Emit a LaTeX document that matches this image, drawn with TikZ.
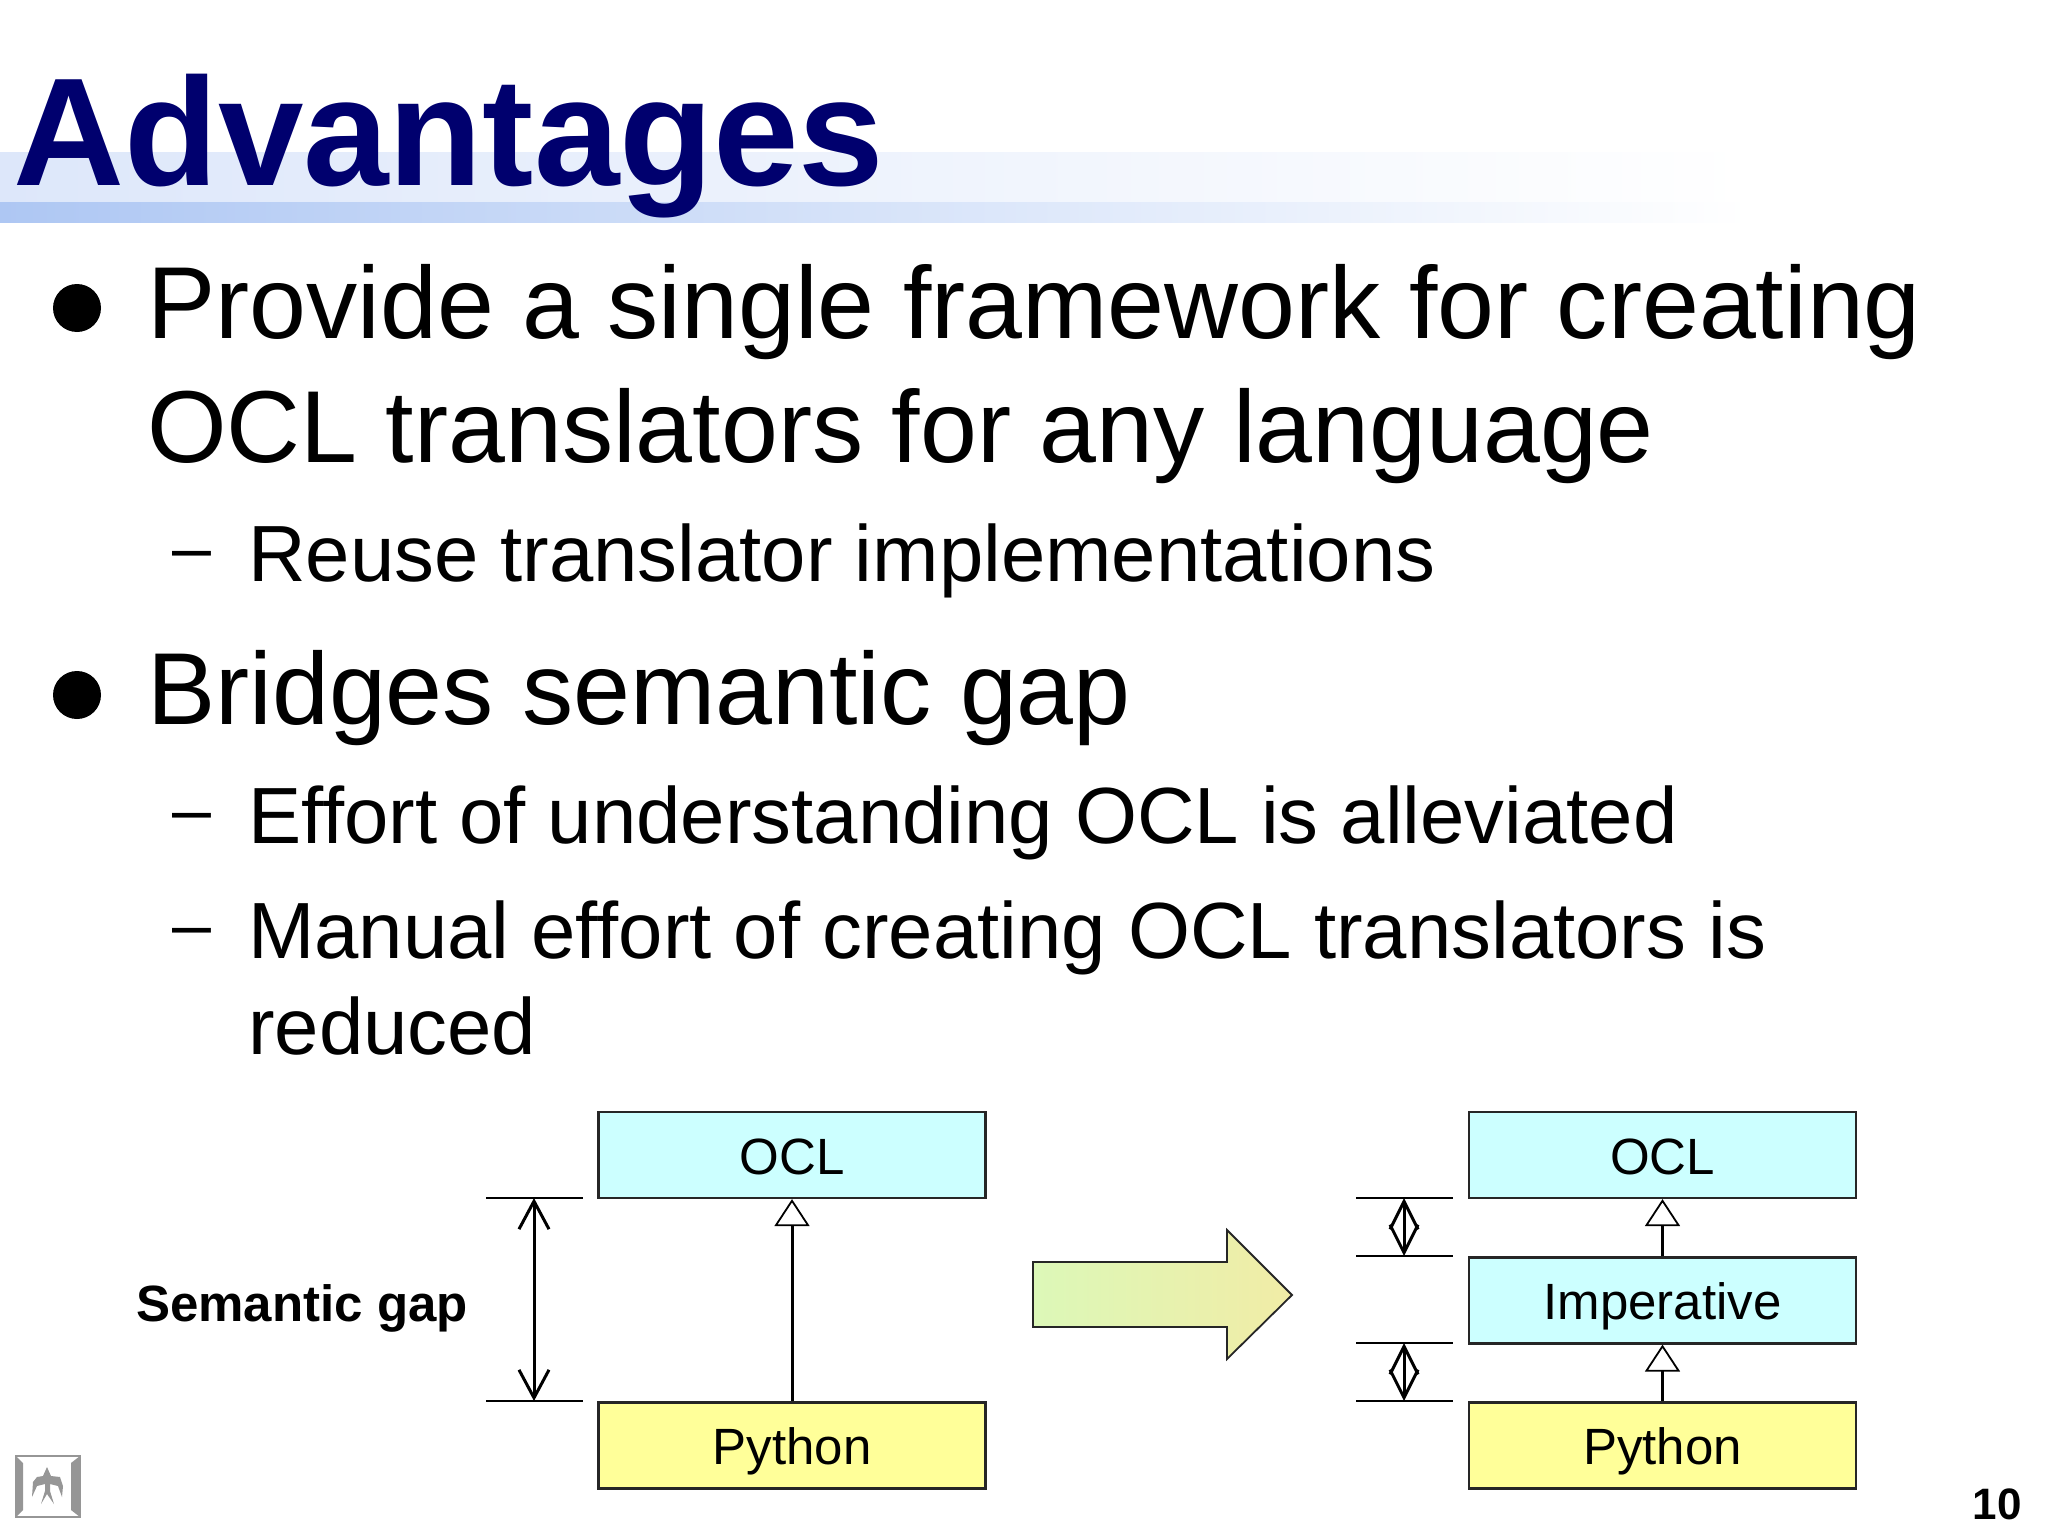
\documentclass[tikz,border=0pt]{standalone}
\usepackage{fontspec}
\setmainfont[Ligatures=CommonOff]{Liberation Sans}
\usetikzlibrary{arrows.meta}
\definecolor{navytitle}{RGB}{0,0,110}
\definecolor{bandlight}{RGB}{221,231,250}
\definecolor{banddark}{RGB}{174,199,243}
\definecolor{boxcyan}{RGB}{204,255,255}
\definecolor{boxyellow}{RGB}{255,255,153}
\definecolor{logogray}{RGB}{150,150,150}
\definecolor{arrowleft}{RGB}{220,248,184}
\definecolor{arrowright}{RGB}{241,236,166}
\tikzset{
 titletext/.style={anchor=base west,inner sep=0pt,text=navytitle,font=\fontsize{153.7}{160}\selectfont\bfseries},
 bodytext/.style={anchor=base west,inner sep=0pt,font=\fontsize{102.3}{120}\selectfont},
 subtext/.style={anchor=base west,inner sep=0pt,font=\fontsize{79.7}{90}\selectfont},
 dashtext/.style={anchor=base west,inner sep=0pt,font=\fontsize{70}{90}\selectfont},
 bulletdot/.style={circle,fill=black,inner sep=0pt,minimum size=48pt},
 langbox/.style={draw=black!85,line width=2.2pt,minimum width=387pt,minimum height=86pt,inner sep=0pt,text height=38pt,text depth=0pt,font=\fontsize{51}{60}\selectfont},
 inherit/.style={line width=3pt,-{Triangle[open,fill=white,length=27pt,width=35pt,line width=1.8pt]}},
 gapline/.style={line width=1.4pt},
 gaparrow/.style={line width=3pt,{Straight Barb[length=28pt,width=28pt,line width=3pt]}-{Straight Barb[length=28pt,width=28pt,line width=3pt]}},
 thinarrow/.style={line width=3pt,{Straight Barb[length=28pt,width=30pt,line width=3pt]}-{Straight Barb[length=28pt,width=30pt,line width=3pt]}}
}
\begin{document}
\begin{tikzpicture}[x=1pt,y=-1pt]
 \useasboundingbox (0,0) rectangle (2048,1536);
 \shade[left color=bandlight,right color=white] (0,153) rectangle (1750,202);
 \shade[left color=banddark,right color=white] (0,202) rectangle (1750,222);
 \node[titletext] (title) at (13,185) {Advantages};

 \node[bulletdot] (dotA) at (77,308) {};
 \node[bodytext] (lineA) at (147,338) {Provide a single framework for creating};
 \node[bodytext] (lineB) at (147,462) {OCL translators for any language};
 \node[dashtext] (dashA) at (172,571) {–};
 \node[subtext] (lineC) at (248,581) {Reuse translator implementations};
 \node[bulletdot] (dotB) at (77,695) {};
 \node[bodytext] (lineD) at (147,724) {Bridges semantic gap};
 \node[dashtext] (dashB) at (172,833) {–};
 \node[subtext] (lineE) at (248,843) {Effort of understanding OCL is alleviated};
 \node[dashtext] (dashC) at (172,948) {–};
 \node[subtext] (lineF) at (248,958) {Manual effort of creating OCL translators is};
 \node[subtext] (lineG) at (248,1054) {reduced};

 \node[anchor=base west,inner sep=0pt,font=\fontsize{51}{60}\selectfont\bfseries] (gaplabel) at (136,1321) {Semantic gap};

 \node[langbox,fill=boxcyan] (oclL) at (792,1155) {OCL};
 \node[langbox,fill=boxyellow] (pythonL) at (792,1445.5) {Python};
 \draw[inherit] (pythonL.north) -- (oclL.south);

 \coordinate (tickLa) at (486,1198);
 \coordinate (tickLb) at (583,1198);
 \coordinate (tickLc) at (486,1401);
 \coordinate (tickLd) at (583,1401);
 \coordinate (gapLa) at (534,1198);
 \coordinate (gapLb) at (534,1401);
 \draw[gapline] (tickLa) -- (tickLb);
 \draw[gapline] (tickLc) -- (tickLd);
 \draw[thinarrow] (gapLa) -- (gapLb);

 \shade[left color=arrowleft,right color=arrowright,draw=black!85,line width=1.8pt]
  (1033,1262)--(1227,1262)--(1227,1230)--(1292,1295)--(1227,1359)--(1227,1327)--(1033,1327)--cycle;

 \node[langbox,fill=boxcyan] (oclR) at (1662.5,1155) {OCL};
 \node[langbox,fill=boxcyan] (impR) at (1662.5,1300.5) {Imperative};
 \node[langbox,fill=boxyellow] (pythonR) at (1662.5,1445.5) {Python};
 \draw[inherit] (impR.north) -- (oclR.south);
 \draw[inherit] (pythonR.north) -- (impR.south);

 \coordinate (tickRa) at (1356,1198);
 \coordinate (tickRb) at (1453,1198);
 \coordinate (tickRc) at (1356,1256);
 \coordinate (tickRd) at (1453,1256);
 \coordinate (tickRe) at (1356,1343);
 \coordinate (tickRf) at (1453,1343);
 \coordinate (tickRg) at (1356,1401);
 \coordinate (tickRh) at (1453,1401);
 \coordinate (gapRa) at (1404,1198);
 \coordinate (gapRb) at (1404,1256);
 \coordinate (gapRc) at (1404,1343);
 \coordinate (gapRd) at (1404,1401);
 \draw[gapline] (tickRa) -- (tickRb);
 \draw[gapline] (tickRc) -- (tickRd);
 \draw[gapline] (tickRe) -- (tickRf);
 \draw[gapline] (tickRg) -- (tickRh);
 \draw[gaparrow] (gapRa) -- (gapRb);
 \draw[gaparrow] (gapRc) -- (gapRd);

 \draw[logogray,line width=2pt] (16,1456) rectangle (80,1517);
 \fill[logogray] (16,1456)--(23,1463)--(23,1510)--(16,1517)--cycle;
 \fill[logogray] (80,1456)--(71,1463)--(71,1510)--(80,1517)--cycle;
 \fill[logogray] (47,1467)--(51,1476)--(60,1477)--(63,1486)--(62,1497)--(58,1486)--(50,1484)--(50,1491)--(54,1504)--(47,1494)--(41,1504)--(45,1491)--(45,1484)--(37,1486)--(32,1497)--(33,1482)--(37,1477)--(43,1476)--cycle;

 \node[anchor=base east,inner sep=0pt,font=\fontsize{44}{52}\selectfont\bfseries] (pagenum) at (2022,1519) {10};
\end{tikzpicture}
\end{document}
